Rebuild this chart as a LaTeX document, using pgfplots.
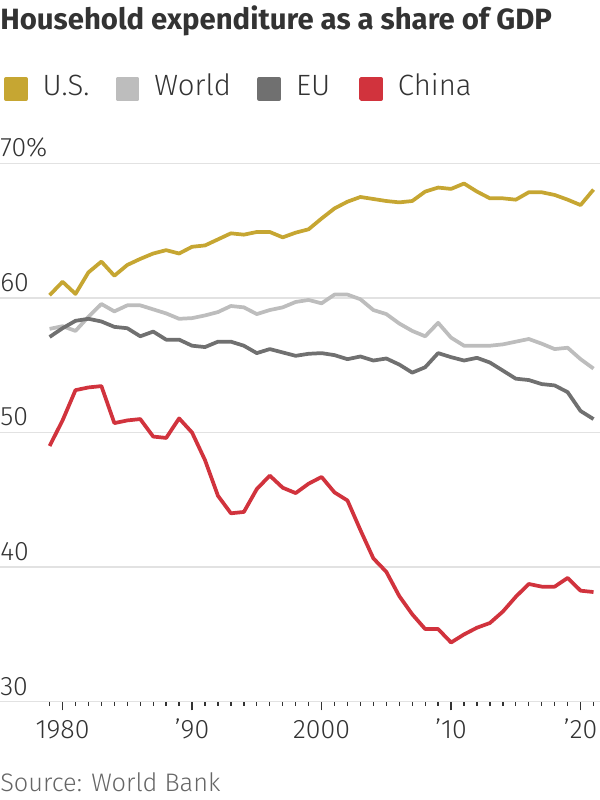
\documentclass[border=0pt]{standalone}
\usepackage{fontspec}
\setmainfont{Fira Sans}
\newfontfamily\lightfont{Fira Sans Light}
\usepackage{pgfplots}
\usepackage{pgfplotstable}
\pgfplotsset{compat=1.18}
\definecolor{usgold}{HTML}{C6A632}
\definecolor{worldc}{HTML}{BDBDBD}
\definecolor{euc}{HTML}{707070}
\definecolor{chinac}{HTML}{D1333D}
\definecolor{gridc}{HTML}{E2E2E2}
\definecolor{txt}{HTML}{333333}
\definecolor{srcc}{HTML}{666666}
\pgfplotstableread{
year us world eu china
1979 60.2 57.7 57.1 49.0
1980 61.2 57.9 57.75 50.9
1981 60.3 57.55 58.3 53.15
1982 61.9 58.6 58.45 53.35
1983 62.7 59.55 58.25 53.45
1984 61.65 59.0 57.85 50.7
1985 62.45 59.45 57.75 50.9
1986 62.9 59.45 57.15 51.0
1987 63.3 59.15 57.5 49.7
1988 63.55 58.85 56.9 49.6
1989 63.3 58.45 56.9 51.05
1990 63.8 58.5 56.45 50.0
1991 63.9 58.7 56.35 47.95
1992 64.35 58.95 56.75 45.3
1993 64.8 59.4 56.75 44.0
1994 64.7 59.3 56.45 44.1
1995 64.9 58.8 55.9 45.8
1996 64.9 59.1 56.2 46.8
1997 64.5 59.3 55.95 45.9
1998 64.85 59.7 55.7 45.5
1999 65.1 59.85 55.85 46.2
2000 65.9 59.6 55.9 46.7
2001 66.65 60.25 55.75 45.55
2002 67.15 60.25 55.45 44.95
2003 67.5 59.9 55.65 42.75
2004 67.35 59.1 55.35 40.65
2005 67.2 58.8 55.5 39.65
2006 67.1 58.1 55.05 37.85
2007 67.2 57.55 54.45 36.5
2008 67.9 57.15 54.85 35.4
2009 68.2 58.15 55.9 35.4
2010 68.1 57.05 55.6 34.4
2011 68.5 56.45 55.35 35.0
2012 67.9 56.45 55.55 35.5
2013 67.4 56.45 55.2 35.85
2014 67.4 56.55 54.6 36.7
2015 67.3 56.75 54.0 37.8
2016 67.85 56.95 53.9 38.75
2017 67.85 56.6 53.6 38.55
2018 67.65 56.2 53.5 38.55
2019 67.3 56.3 53.0 39.2
2020 66.9 55.45 51.6 38.25
2021 68.05 54.75 51.0 38.15
}\datatable
\begin{document}
\begin{tikzpicture}
\useasboundingbox (0,0) rectangle (450pt,600pt);
\node[anchor=base west, inner sep=0pt, text=txt] at (0,577.5pt)
  {\fontsize{22}{26}\selectfont\bfseries Household expenditure as a share of GDP};
\begin{axis}[
  at={(0pt,73.7pt)}, anchor=south west,
  scale only axis, width=450pt, height=403.8pt,
  xmin=1975.17, xmax=2021.5, ymin=30, ymax=70,
  axis line style={draw=none},
  ymajorgrids, grid style={color=gridc, line width=1.1pt},
  ytick={30,40,50,60,70}, yticklabels={30,40,50,60,70\%},
  xtick={1980,1990,2000,2010,2020}, xticklabels={1980,’90,2000,’10,’20},
  minor xtick={1979,1980,...,2021},
  ytick pos=left, xtick pos=bottom,
  tick align=outside,
  ytick style={draw=none},
  xtick style={color=txt, line width=1pt},
  major tick length=6.4pt, minor tick length=3pt,
  tick label style={font=\lightfont\fontsize{20}{22}\selectfont, text=txt},
  xticklabel style={anchor=base, inner sep=0pt, yshift=-21pt},
  yticklabel style={anchor=base west, inner sep=0pt, xshift=6.4pt, yshift=5pt},
  legend columns=4,
  legend cell align=left,
  legend style={at={(0.00667,1.1381)}, anchor=west, draw=none, fill=none,
    inner sep=0pt, outer sep=0pt, row sep=0pt, column sep=0pt,
    nodes={inner sep=0pt, outer sep=0pt},
    font=\lightfont\fontsize{22}{24}\selectfont, text=txt},
  legend image code/.code={\fill[#1] (0pt,-7.5pt) rectangle (15pt,7.5pt);},
]
\addplot[color=usgold, line width=2.8pt, line join=round] table[x=year, y=us] {\datatable};
\addlegendentry{\hspace*{11.25pt}\makebox[54.75pt][l]{\smash{U.S.}}\rule{0pt}{11pt}}
\addplot[color=worldc, line width=2.8pt, line join=round] table[x=year, y=world] {\datatable};
\addlegendentry{\hspace*{11.25pt}\makebox[77.25pt][l]{\smash{World}}\rule{0pt}{11pt}}
\addplot[color=euc, line width=2.8pt, line join=round] table[x=year, y=eu] {\datatable};
\addlegendentry{\hspace*{11.25pt}\makebox[47.25pt][l]{\smash{EU}}\rule{0pt}{11pt}}
\addplot[color=chinac, line width=2.8pt, line join=round] table[x=year, y=china] {\datatable};
\addlegendentry{\hspace*{11.25pt}\smash{China}\rule{0pt}{11pt}}
\end{axis}
\node[anchor=base west, inner sep=0pt, text=srcc] at (0,6pt)
  {\lightfont\fontsize{19}{22}\selectfont Source: World Bank};
\end{tikzpicture}
\end{document}
